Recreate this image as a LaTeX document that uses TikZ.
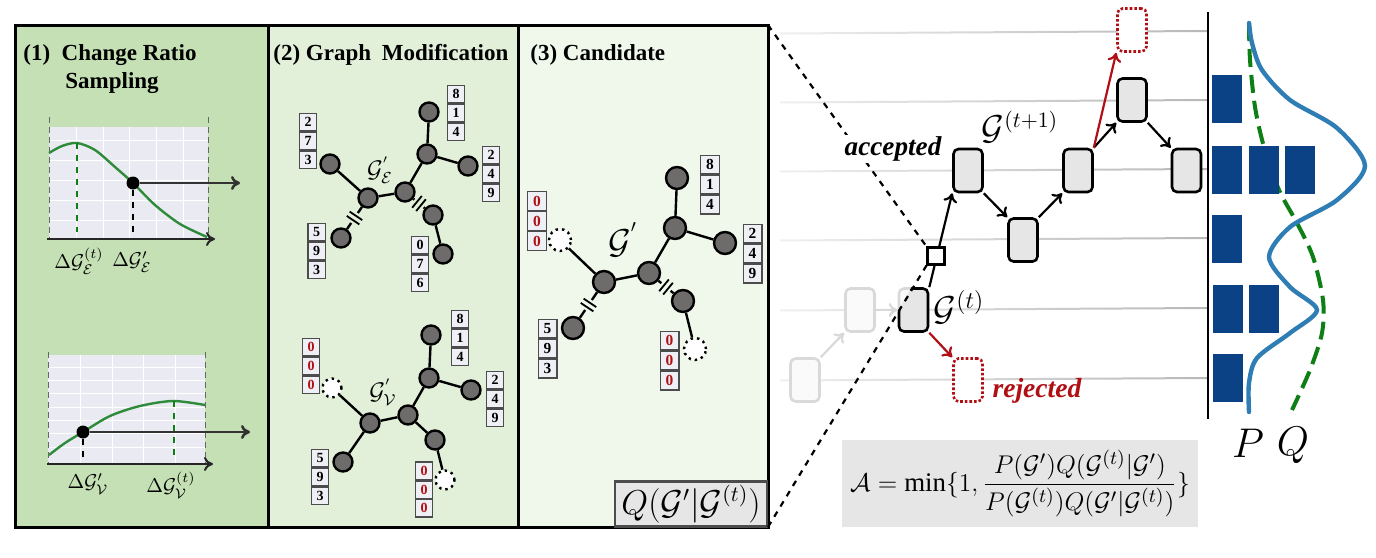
\documentclass[tikz,border=0pt]{standalone}
\usepackage{amsmath}
\usepackage{graphicx}
\usepackage{fontspec}
\setmainfont{Liberation Serif}
\usetikzlibrary{calc,positioning,arrows.meta}
\definecolor{panelA}{HTML}{C5E0B4}
\definecolor{panelB}{HTML}{E2F0D9}
\definecolor{panelC}{HTML}{F0F8EC}
\definecolor{plotbg}{HTML}{EAEAF2}
\definecolor{curvegreen}{HTML}{2E8B3A}
\definecolor{dashgreen}{HTML}{0E7F15}
\definecolor{vertgray}{HTML}{6E6B6B}
\definecolor{cellbg}{HTML}{EEF0F6}
\definecolor{blockgray}{HTML}{E6E6E6}
\definecolor{darkred}{HTML}{B00F14}
\definecolor{barblue}{HTML}{0B4285}
\definecolor{curveblue}{HTML}{2E7EB5}
\tikzset{
	title/.style={font=\bfseries\fontsize{11.5}{13}\selectfont, anchor=west, inner sep=0pt},
	vert/.style={circle, draw=black, fill=vertgray, line width=1.2pt, minimum size=9.5pt, inner sep=0pt},
	bigvert/.style={vert, minimum size=11pt},
	gonevert/.style={circle, draw=black, fill=white, line width=1.2pt, dotted, minimum size=9.5pt, inner sep=0pt},
	biggone/.style={gonevert, minimum size=11pt},
	edge/.style={line width=1.2pt, black},
	tick/.style={line width=0.9pt, black},
	cell/.style={draw=black!70, fill=cellbg, line width=0.7pt, minimum size=8.7pt, inner sep=0pt, font=\bfseries\fontsize{7}{7}\selectfont},
	bigcell/.style={cell, minimum size=9.3pt, font=\bfseries\fontsize{7.7}{8}\selectfont},
	block/.style={draw=black, fill=blockgray, rounded corners=2.5pt, line width=1.3pt, minimum width=14.5pt, minimum height=21.5pt, inner sep=0pt},
	ghost/.style={block, draw=black!15, fill=black!2},
	gone/.style={block, draw=darkred, fill=white, densely dotted},
	tip/.style={-{To[length=4.5pt, width=7pt]}},
	step arrow/.style={tip, line width=1.1pt, black},
	red arrow/.style={tip, line width=1.1pt, darkred},
	axis/.style={tip, line width=1pt, black!85},
	pick/.style={tip, line width=1.3pt, black!80},
	fence/.style={densely dashed, line width=0.3pt, black!60},
	dot/.style={circle, fill=black, minimum size=6.5pt, inner sep=0pt},
	lab/.style={inner sep=0pt, font=\fontsize{10}{12}\selectfont}
}
% one column of three feature cells: name, style, x, y, digits
\def\featstack#1#2#3#4#5#6#7{
	\node[#2] (#1m) at (#3, #4) {#6};
	\node[#2, above=0pt of #1m, anchor=south] (#1t) {#5};
	\node[#2, below=0pt of #1m, anchor=north] (#1b) {#7};
}
% edge with two strokes across it
\def\cutedge#1#2{
	\draw[edge] (#1) -- ($(#1)!.5!(#2)!3pt!(#1)$);
	\draw[edge] ($(#1)!.5!(#2)!3pt!(#2)$) -- (#2);
	\draw[tick] ($(#1)!.5!(#2)!1.3pt!(#1)!3.8pt!90:(#1)$) -- ($(#1)!.5!(#2)!1.3pt!(#1)!-3.8pt!90:(#1)$);
	\draw[tick] ($(#1)!.5!(#2)!1.3pt!(#2)!3.8pt!90:(#2)$) -- ($(#1)!.5!(#2)!1.3pt!(#2)!-3.8pt!90:(#2)$);
}
\begin{document}
\begin{tikzpicture}[x=0.5pt, y=-0.5pt]
	\useasboundingbox (0, 0) rectangle (1376, 557);
	
	%%%%% panels %%%%%
	\draw[line width=1.5pt, fill=panelA] (15, 25) rectangle (268, 527);
	\draw[line width=1.5pt, fill=panelB] (268, 25) rectangle (518, 527);
	\draw[line width=1.5pt, fill=panelC] (518, 25) rectangle (768, 527);
	
	\node[title] (titleA) at (23, 55) {(1)\ \ Change Ratio};
	\node[title] (titleAb) at (65, 83) {Sampling};
	\node[title] (titleB) at (273, 55) {(2) Graph\hspace{2.5pt} Modification};
	\node[title] (titleC) at (530, 55) {(3) Candidate};
	
	%%%%% first plot %%%%%
	\fill[plotbg] (49, 127) rectangle (208, 238);
	\foreach \y in {140, 160, 180, 200, 220} \draw[white, line width=0.3pt] (49, \y) -- (208, \y);
	\foreach \x in {76, 103, 129, 156, 183} \draw[white, line width=0.3pt] (\x, 127) -- (\x, 238);
	\draw[fence] (49, 117) -- (49, 238);
	\draw[fence] (208, 117) -- (208, 238);
	\draw[curvegreen, line width=1.2pt] plot[smooth] coordinates {(49,153) (62,146) (77,143) (95,150) (115,167) (133,183) (155,205) (180,224) (207,237)};
	\draw[dashgreen, dashed, line width=1.1pt] (77, 143) -- (77, 232);
	\node[dot] (dotA) at (133, 183) {};
	\coordinate (footA) at (133, 239);
	\coordinate (endA) at (240, 183);
	\draw[dashed, line width=1pt] (dotA) -- (footA);
	\draw[pick] (dotA) -- (endA);
	\coordinate (axAl) at (47, 239);
	\coordinate (axAr) at (215, 239);
	\draw[axis] (axAl) -- (axAr);
	\node[lab] (labAt) at (79, 261) {$\Delta\mathcal{G}_{\mathcal{E}}^{(t)}$};
	\node[lab] (labAp) at (132, 262) {$\Delta\mathcal{G}_{\mathcal{E}}^{\prime}$};
	
	%%%%% second plot %%%%%
	\fill[plotbg] (48, 355) rectangle (205, 463);
	\foreach \y in {367, 380, 393, 407, 420, 433, 447} \draw[white, line width=0.3pt] (48, \y) -- (205, \y);
	\foreach \x in {80, 112, 143, 175} \draw[white, line width=0.3pt] (\x, 355) -- (\x, 463);
	\draw[fence] (48, 352) -- (48, 463);
	\draw[fence] (205, 352) -- (205, 463);
	\draw[curvegreen, line width=1.2pt] plot[smooth] coordinates {(49,455) (65,443) (83,432) (110,416) (140,406) (173,401) (205,405)};
	\draw[dashgreen, dashed, line width=1.1pt] (174, 401) -- (174, 460);
	\node[dot] (dotB) at (83, 432) {};
	\coordinate (footB) at (83, 464);
	\coordinate (endB) at (250, 432);
	\draw[dashed, line width=1pt] (dotB) -- (footB);
	\draw[pick] (dotB) -- (endB);
	\coordinate (axBl) at (47, 464);
	\coordinate (axBr) at (213, 464);
	\draw[axis] (axBl) -- (axBr);
	\node[lab] (labBp) at (88, 484) {$\Delta\mathcal{G}_{\mathcal{V}}^{\prime}$};
	\node[lab] (labBt) at (171, 485) {$\Delta\mathcal{G}_{\mathcal{V}}^{(t)}$};
	
	%%%%% edge modified graph %%%%%
	\node[vert] (e1) at (429, 112) {};
	\node[vert] (e2) at (427, 154) {};
	\node[vert] (e3) at (468, 166) {};
	\node[vert] (e4) at (405, 192) {};
	\node[vert] (e5) at (368, 198) {};
	\node[vert] (e6) at (330, 164) {};
	\node[vert] (e7) at (341, 238) {};
	\node[vert] (e8) at (433, 215) {};
	\node[vert] (e9) at (443, 254) {};
	\foreach \a/\b in {e1/e2, e2/e3, e2/e4, e4/e5, e5/e6, e8/e9} \draw[edge] (\a) -- (\b);
	\cutedge{e5}{e7}
	\cutedge{e4}{e8}
	\featstack{fa}{cell}{456}{113}{8}{1}{4}
	\featstack{fb}{cell}{308}{141}{2}{7}{3}
	\featstack{fc}{cell}{491}{174}{2}{4}{9}
	\featstack{fd}{cell}{316.5}{251}{5}{9}{3}
	\featstack{fe}{cell}{420}{264}{0}{7}{6}
	\node[lab, font=\fontsize{11.5}{13}\selectfont] (labE) at (380, 170) {$\mathcal{G}_{\mathcal{E}}^{'}$};
	
	%%%%% node modified graph %%%%%
	\node[vert] (v1) at (431, 335) {};
	\node[vert] (v2) at (429, 378) {};
	\node[vert] (v3) at (471, 390) {};
	\node[vert] (v4) at (408, 415) {};
	\node[vert] (v5) at (370, 423) {};
	\node[gonevert] (v6) at (332, 388) {};
	\node[vert] (v7) at (343, 462) {};
	\node[vert] (v8) at (435, 440) {};
	\node[gonevert] (v9) at (445, 480) {};
	\foreach \a/\b in {v1/v2, v2/v3, v2/v4, v4/v5, v5/v6, v5/v7, v4/v8, v8/v9} \draw[edge] (\a) -- (\b);
	\featstack{ga}{cell}{460}{338}{8}{1}{4}
	\featstack{gb}{cell}{311}{366}{\textcolor{darkred}{0}}{\textcolor{darkred}{0}}{\textcolor{darkred}{0}}
	\featstack{gc}{cell}{495}{399}{2}{4}{9}
	\featstack{gd}{cell}{320}{477}{5}{9}{3}
	\featstack{ge}{cell}{424}{489.5}{\textcolor{darkred}{0}}{\textcolor{darkred}{0}}{\textcolor{darkred}{0}}
	\node[lab, font=\fontsize{11.5}{13}\selectfont] (labV) at (383, 392) {$\mathcal{G}_{\mathcal{V}}^{'}$};
	
	%%%%% candidate graph %%%%%
	\node[bigvert] (c1) at (677, 178) {};
	\node[bigvert] (c2) at (675, 228) {};
	\node[bigvert] (c3) at (725, 243) {};
	\node[bigvert] (c4) at (649, 273) {};
	\node[bigvert] (c5) at (604, 282) {};
	\node[biggone] (c6) at (560, 240) {};
	\node[bigvert] (c7) at (573, 328) {};
	\node[bigvert] (c8) at (683, 301) {};
	\node[biggone] (c9) at (695, 349) {};
	\foreach \a/\b in {c1/c2, c2/c3, c2/c4, c4/c5, c5/c6, c8/c9} \draw[edge] (\a) -- (\b);
	\cutedge{c5}{c7}
	\cutedge{c4}{c8}
	\featstack{ha}{bigcell}{710}{184.5}{8}{1}{4}
	\featstack{hb}{bigcell}{537}{221}{\textcolor{darkred}{0}}{\textcolor{darkred}{0}}{\textcolor{darkred}{0}}
	\featstack{hc}{bigcell}{752.5}{253.5}{2}{4}{9}
	\featstack{hd}{bigcell}{547.5}{348.5}{5}{9}{3}
	\featstack{he}{bigcell}{669.5}{360.5}{\textcolor{darkred}{0}}{\textcolor{darkred}{0}}{\textcolor{darkred}{0}}
	\node[lab, font=\fontsize{18}{20}\selectfont] (labC) at (623, 240) {$\mathcal{G}^{'}$};
	
	\node[draw=black!70, fill=blockgray, line width=1.2pt, minimum width=76pt, minimum height=22.5pt, inner sep=0pt, font=\fontsize{16}{18}\selectfont] (qbox) at (691, 504) {$Q(\mathcal{G}^{\prime}|\mathcal{G}^{(t)})$};
	
	%%%%% chain lanes %%%%%
	\foreach \y in {33, 102, 171, 240, 310, 380}
		\shade[left color=black!6, right color=black!28] (780, \y-0.5) -- (1207, \y-3) -- (1207, \y-1) -- (780, \y+1.5) -- cycle;
	\draw[line width=1pt] (1208, 12) -- (1208, 419);
	
	\node[ghost] (s1) at (805, 380) {};
	\node[ghost] (s2) at (860, 310) {};
	\node[block] (s3) at (913.5, 310) {};
	\node[block] (s4) at (968, 170.5) {};
	\node[block] (s5) at (1023, 240) {};
	\node[block] (s6) at (1078, 170.5) {};
	\node[block] (s7) at (1132, 100) {};
	\node[block] (s8) at (1186.5, 170.5) {};
	\node[gone] (r1) at (968, 380) {};
	\node[gone] (r2) at (1132, 30) {};
	
	\draw[tip, line width=1.1pt, black!15] (s1.north east) -- (s2.south west);
	\draw[tip, line width=1.1pt, black!15] (s2.east) -- (s3.west);
	\draw[step arrow] (s3.north east) -- (s4.south west);
	\draw[step arrow] (s4.south east) -- (s5.north west);
	\draw[step arrow] (s5.north east) -- (s6.south west);
	\draw[step arrow] (s6.north east) -- (s7.south west);
	\draw[step arrow] (s7.south east) -- (s8.north west);
	\draw[red arrow] (s3.south east) -- (r1.north west);
	\draw[red arrow] (s6.north east) -- (r2.south west);
	
	% part of the block left of the cut is washed out
	\fill[white, opacity=0.85] (912, 286) -- (897, 312) -- (896, 286) -- cycle;
	
	\node[draw=black, fill=white, line width=1.1pt, minimum size=8.5pt, inner sep=0pt] (cut) at (936, 256) {};
	\coordinate (cornerT) at (768, 25);
	\coordinate (cornerB) at (768, 527);
	\draw[dashed, line width=1.1pt] (cornerT) -- (cut.north west);
	\draw[dashed, line width=1.1pt] (cornerB) -- (cut.south west);
	
	\node[fill=white, inner sep=1pt, font=\bfseries\itshape\fontsize{13.6}{15}\selectfont] (acc) at (893, 149) {accepted};
	\node[inner sep=0pt, text=darkred, font=\bfseries\itshape\fontsize{13.8}{15}\selectfont] (rej) at (1037, 391) {rejected};
	\node[lab, font=\fontsize{16}{18}\selectfont] (labNext) at (1020, 127) {$\mathcal{G}^{(t+1)}$};
	\node[lab, font=\fontsize{16.5}{18}\selectfont] (labNow) at (959, 307) {$\mathcal{G}^{(t)}$};
	
	%%%%% histogram and densities %%%%%
	\draw[dashgreen, line width=2pt, dash pattern=on 9pt off 4pt] plot[smooth] coordinates {(1249,23) (1250,60) (1255,107) (1264,147) (1279,190) (1297,223) (1313,257) (1323,300) (1322,333) (1310,370) (1292,410)};
	\foreach \x/\y in {1212/75, 1212/146, 1249/146, 1285/146, 1212/215, 1213/285, 1249/285, 1213/354}
		\fill[barblue] (\x, \y) rectangle (\x+30, \y+47.5);
	\draw[curveblue, line width=2.2pt, line cap=round] plot[smooth] coordinates {(1249,23) (1252,43) (1262,70) (1290,100) (1337,128) (1365,166) (1337,200) (1290,227) (1269,257) (1290,287) (1317,310) (1290,333) (1257,358) (1249,383) (1249,412)};
	\node[lab, font=\fontsize{20}{24}\selectfont] (labP) at (1248, 443) {$P$};
	\node[lab, font=\fontsize{20}{24}\selectfont] (labQ) at (1293, 445) {$Q$};
	
	%%%%% acceptance box %%%%%
	\node[fill=blockgray, minimum width=178pt, minimum height=43.5pt, inner sep=0pt, font=\fontsize{12.6}{15}\selectfont] (accbox) at (1020, 483.5) {\scalebox{1.066}{$\mathcal{A}=\min\{1,\dfrac{P(\mathcal{G}^{\prime})Q(\mathcal{G}^{(t)}|\mathcal{G}^{\prime})}{P(\mathcal{G}^{(t)})Q(\mathcal{G}^{\prime}|\mathcal{G}^{(t)})}\}$}};
\end{tikzpicture}
\end{document}
